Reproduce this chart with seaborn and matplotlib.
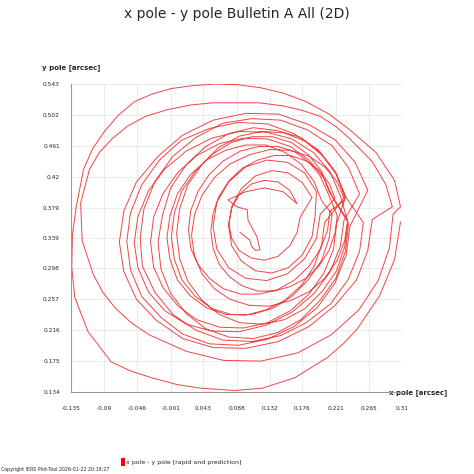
import matplotlib
matplotlib.use("Agg")
import matplotlib.pyplot as plt
from matplotlib.patches import Patch
import seaborn as sns
import pandas as pd

# polar motion path, one list per turn (clockwise, starting at the right side)
loop_a_x = [0.308, 0.300, 0.280, 0.250, 0.231, 0.210, 0.166, 0.122, 0.085, 0.040, 0.007, -0.027, -0.055, -0.081,
            -0.112, -0.130, -0.134, -0.133, -0.128, -0.118, -0.106, -0.090, -0.071, -0.049, -0.025, 0.000, 0.030,
            0.060, 0.090, 0.120, 0.150, 0.180, 0.212, 0.240, 0.275, 0.300, 0.308]
loop_a_y = [0.360, 0.310, 0.262, 0.218, 0.198, 0.180, 0.153, 0.139, 0.136, 0.139, 0.144, 0.153, 0.162, 0.174,
            0.214, 0.260, 0.300, 0.343, 0.380, 0.430, 0.457, 0.480, 0.502, 0.520, 0.530, 0.537, 0.541,
            0.543, 0.542, 0.538, 0.531, 0.520, 0.503, 0.482, 0.452, 0.415, 0.380]
loop_b_x = [0.298, 0.293, 0.278, 0.252, 0.215, 0.170, 0.120, 0.070, 0.020, -0.005, -0.030, -0.054, -0.075,
            -0.092, -0.105, -0.120, -0.122, -0.110, -0.097, -0.080, -0.059, -0.035, -0.005, 0.025, 0.055,
            0.085, 0.118, 0.150, 0.176, 0.200, 0.222, 0.240, 0.270, 0.288, 0.297]
loop_b_y = [0.370, 0.325, 0.282, 0.243, 0.210, 0.186, 0.175, 0.176, 0.188, 0.199, 0.210, 0.226, 0.245,
            0.266, 0.290, 0.335, 0.385, 0.430, 0.452, 0.470, 0.487, 0.500, 0.509, 0.515, 0.518,
            0.518, 0.518, 0.514, 0.508, 0.500, 0.486, 0.470, 0.440, 0.410, 0.380]
loop_c_x = [0.270, 0.264, 0.249, 0.220, 0.185, 0.144, 0.100, 0.056, 0.015, -0.020, -0.047, -0.064,
            -0.070, -0.064, -0.047, -0.018, 0.015, 0.056, 0.100, 0.144, 0.185, 0.220, 0.247, 0.264]
loop_c_y = [0.363, 0.322, 0.283, 0.249, 0.221, 0.201, 0.192, 0.193, 0.205, 0.229, 0.257, 0.294,
            0.333, 0.374, 0.413, 0.447, 0.475, 0.495, 0.504, 0.503, 0.489, 0.469, 0.439, 0.402]
loop_n_x = [0.240, 0.235, 0.220, 0.196, 0.165, 0.129, 0.090, 0.051, 0.015, -0.014, -0.040, -0.055,
            -0.060, -0.055, -0.040, -0.016, 0.013, 0.051, 0.090, 0.129, 0.165, 0.198, 0.220, 0.235]
loop_n_y = [0.354, 0.316, 0.279, 0.246, 0.221, 0.204, 0.196, 0.198, 0.211, 0.233, 0.261, 0.296,
            0.334, 0.372, 0.409, 0.442, 0.468, 0.484, 0.492, 0.490, 0.477, 0.455, 0.427, 0.392]
loop_d_x = [0.258, 0.253, 0.238, 0.214, 0.181, 0.147, 0.108, 0.069, 0.033, 0.002, -0.022, -0.039,
            -0.042, -0.037, -0.022, 0.002, 0.033, 0.069, 0.108, 0.147, 0.183, 0.216, 0.238, 0.253]
loop_d_y = [0.359, 0.321, 0.284, 0.251, 0.226, 0.209, 0.201, 0.203, 0.216, 0.237, 0.266, 0.301,
            0.339, 0.377, 0.414, 0.447, 0.472, 0.491, 0.497, 0.495, 0.482, 0.461, 0.432, 0.397]
loop_o_x = [0.232, 0.227, 0.213, 0.191, 0.162, 0.128, 0.091, 0.054, 0.020, -0.009, -0.031, -0.045,
            -0.050, -0.045, -0.031, -0.009, 0.020, 0.054, 0.091, 0.128, 0.162, 0.191, 0.213, 0.227]
loop_o_y = [0.362, 0.327, 0.293, 0.264, 0.240, 0.223, 0.214, 0.215, 0.224, 0.242, 0.267, 0.299,
            0.332, 0.367, 0.401, 0.430, 0.454, 0.471, 0.480, 0.479, 0.470, 0.452, 0.427, 0.395]
loop_e_x = [0.238, 0.234, 0.221, 0.200, 0.174, 0.143, 0.110, 0.077, 0.046, 0.020, -0.001, -0.014,
            -0.018, -0.012, -0.001, 0.020, 0.046, 0.077, 0.110, 0.143, 0.174, 0.200, 0.221, 0.234]
loop_e_y = [0.357, 0.321, 0.285, 0.256, 0.230, 0.213, 0.205, 0.207, 0.218, 0.238, 0.265, 0.297,
            0.333, 0.369, 0.405, 0.436, 0.460, 0.477, 0.485, 0.481, 0.472, 0.452, 0.425, 0.393]
loop_p_x = [0.222, 0.218, 0.205, 0.185, 0.160, 0.129, 0.097, 0.065, 0.034, 0.009, -0.011, -0.024,
            -0.028, -0.024, -0.011, 0.009, 0.034, 0.065, 0.097, 0.129, 0.160, 0.185, 0.205, 0.218]
loop_p_y = [0.357, 0.324, 0.292, 0.264, 0.242, 0.226, 0.219, 0.220, 0.230, 0.248, 0.272, 0.300,
            0.333, 0.366, 0.398, 0.426, 0.448, 0.464, 0.471, 0.470, 0.460, 0.442, 0.418, 0.390]
loop_f_x = [0.237, 0.233, 0.222, 0.203, 0.180, 0.152, 0.122, 0.092, 0.064, 0.041, 0.022, 0.011,
            0.007, 0.011, 0.022, 0.041, 0.064, 0.092, 0.122, 0.152, 0.180, 0.203, 0.222, 0.233]
loop_f_y = [0.360, 0.327, 0.295, 0.268, 0.245, 0.230, 0.224, 0.226, 0.237, 0.256, 0.281, 0.311,
            0.344, 0.377, 0.409, 0.436, 0.459, 0.474, 0.480, 0.478, 0.467, 0.448, 0.423, 0.393]
loop_q_x = [0.206, 0.202, 0.192, 0.175, 0.153, 0.127, 0.100, 0.073, 0.047, 0.025, 0.008, -0.002,
            -0.006, -0.002, 0.008, 0.025, 0.047, 0.073, 0.100, 0.127, 0.153, 0.175, 0.192, 0.202]
loop_q_y = [0.359, 0.330, 0.301, 0.276, 0.256, 0.243, 0.236, 0.237, 0.246, 0.262, 0.283, 0.310,
            0.339, 0.368, 0.397, 0.422, 0.442, 0.455, 0.462, 0.462, 0.452, 0.436, 0.413, 0.388]
loop_g_x = [0.216, 0.212, 0.202, 0.184, 0.162, 0.136, 0.108, 0.080, 0.054, 0.032, 0.014, 0.004,
            0.000, 0.004, 0.014, 0.032, 0.054, 0.080, 0.108, 0.136, 0.162, 0.184, 0.202, 0.212]
loop_g_y = [0.370, 0.338, 0.309, 0.283, 0.261, 0.245, 0.237, 0.237, 0.245, 0.261, 0.283, 0.310,
            0.340, 0.372, 0.401, 0.427, 0.449, 0.465, 0.473, 0.473, 0.465, 0.449, 0.427, 0.400]
loop_h_x = [0.237, 0.233, 0.223, 0.206, 0.185, 0.159, 0.132, 0.105, 0.079, 0.058, 0.041, 0.031,
            0.027, 0.031, 0.041, 0.058, 0.079, 0.105, 0.132, 0.159, 0.185, 0.206, 0.223, 0.233]
loop_h_y = [0.362, 0.335, 0.309, 0.285, 0.267, 0.255, 0.248, 0.249, 0.257, 0.271, 0.291, 0.315,
            0.342, 0.369, 0.395, 0.419, 0.437, 0.449, 0.456, 0.455, 0.447, 0.433, 0.413, 0.389]
loop_i_x = [0.213, 0.210, 0.200, 0.185, 0.166, 0.143, 0.118, 0.093, 0.070, 0.051, 0.036, 0.026,
            0.023, 0.026, 0.036, 0.051, 0.070, 0.093, 0.118, 0.143, 0.166, 0.185, 0.200, 0.210]
loop_i_y = [0.374, 0.349, 0.323, 0.301, 0.283, 0.270, 0.264, 0.264, 0.271, 0.285, 0.303, 0.325,
            0.350, 0.375, 0.401, 0.423, 0.441, 0.454, 0.460, 0.460, 0.453, 0.439, 0.421, 0.399]
loop_j_x = [0.223, 0.220, 0.212, 0.198, 0.181, 0.160, 0.138, 0.116, 0.095, 0.078, 0.064, 0.056,
            0.053, 0.056, 0.064, 0.078, 0.095, 0.116, 0.138, 0.160, 0.181, 0.198, 0.212, 0.220]
loop_j_y = [0.368, 0.345, 0.322, 0.301, 0.285, 0.274, 0.268, 0.268, 0.275, 0.287, 0.304, 0.325,
            0.348, 0.371, 0.394, 0.415, 0.431, 0.442, 0.448, 0.448, 0.441, 0.429, 0.411, 0.391]
loop_k_x = [0.200, 0.195, 0.179, 0.156, 0.128, 0.100, 0.077, 0.061, 0.056, 0.061, 0.077, 0.100,
            0.128, 0.156, 0.179, 0.195]
loop_k_y = [0.370, 0.338, 0.311, 0.291, 0.282, 0.285, 0.299, 0.324, 0.354, 0.386, 0.413, 0.433,
            0.442, 0.439, 0.425, 0.400]
loop_l_x = [0.193, 0.189, 0.176, 0.157, 0.135, 0.113, 0.094, 0.081, 0.077, 0.081, 0.094, 0.113,
            0.135, 0.157, 0.176, 0.189]
loop_l_y = [0.366, 0.340, 0.316, 0.299, 0.292, 0.295, 0.308, 0.328, 0.354, 0.380, 0.404, 0.421,
            0.428, 0.425, 0.412, 0.392]
loop_m_x = [0.173, 0.169, 0.159, 0.143, 0.125, 0.107, 0.091, 0.081, 0.077, 0.081, 0.091, 0.107,
            0.125, 0.143, 0.159, 0.169]
loop_m_y = [0.366, 0.346, 0.328, 0.314, 0.309, 0.312, 0.322, 0.338, 0.358, 0.378, 0.396, 0.410,
            0.415, 0.413, 0.402, 0.384]
tail_x = [0.150, 0.125, 0.100, 0.076, 0.088, 0.102, 0.103, 0.108, 0.115, 0.119, 0.113, 0.108, 0.105, 0.092]
tail_y = [0.400, 0.405, 0.400, 0.389, 0.380, 0.376, 0.362, 0.353, 0.340, 0.323, 0.322, 0.327, 0.336, 0.346]

x_ticks = [-0.135, -0.09, -0.046, -0.001, 0.043, 0.088, 0.132, 0.176, 0.221, 0.265, 0.31]
y_ticks = [0.134, 0.175, 0.216, 0.257, 0.298, 0.339, 0.379, 0.42, 0.461, 0.502, 0.543]
x_tick_labels = ["-0.135", "-0.09", "-0.046", "-0.001", "0.043", "0.088", "0.132", "0.176", "0.221", "0.265", "0.31"]
y_tick_labels = ["0.134", "0.175", "0.216", "0.257", "0.298", "0.339", "0.379", "0.42", "0.461", "0.502", "0.543"]

xs = (loop_a_x + loop_b_x + loop_c_x + loop_n_x + loop_d_x + loop_o_x + loop_e_x + loop_p_x + loop_f_x
      + loop_q_x + loop_g_x + loop_h_x + loop_i_x + loop_j_x + loop_k_x + loop_l_x + loop_m_x + tail_x)
ys = (loop_a_y + loop_b_y + loop_c_y + loop_n_y + loop_d_y + loop_o_y + loop_e_y + loop_p_y + loop_f_y
      + loop_q_y + loop_g_y + loop_h_y + loop_i_y + loop_j_y + loop_k_y + loop_l_y + loop_m_y + tail_y)
df = pd.DataFrame({"x": xs, "y": ys})

sns.set_theme(style="white")
plt.rcParams['font.family'] = ['DejaVu Sans']

fig = plt.figure(figsize=(4.74, 4.74), dpi=100)
ax = fig.add_axes([71 / 474, 1 - 392 / 474, 331 / 474, 308 / 474])

line_color = "#f03030"
sns.lineplot(data=df, x="x", y="y", sort=False, estimator=None, color=line_color,
             linewidth=0.7, alpha=0.9, ax=ax)

ax.set_xlim(-0.135, 0.31)
ax.set_ylim(0.134, 0.543)
ax.set_xticks(x_ticks)
ax.set_yticks(y_ticks)
ax.set_xticklabels(x_tick_labels, fontsize=4.2)
ax.set_yticklabels(y_tick_labels, fontsize=4.2)
ax.tick_params(axis="x", pad=10, length=0)
ax.tick_params(axis="y", pad=8, length=0)
ax.grid(True, color="#e8e8e8", linewidth=0.6)
for s in ["top", "right"]:
    ax.spines[s].set_visible(False)
for s in ["left", "bottom"]:
    ax.spines[s].set_color("#999999")
    ax.spines[s].set_linewidth(0.8)

ax.set_xlabel("x pole [arcsec]", fontsize=5, fontweight="bold",
              bbox=dict(facecolor="white", edgecolor="none", pad=0.6))
ax.xaxis.set_label_coords(1.048, -0.002)
ax.xaxis.label.set_va("center")
ax.xaxis.label.set_zorder(5)
ax.set_ylabel("y pole [arcsec]", fontsize=5, fontweight="bold", rotation=0)
ax.yaxis.set_label_coords(0.0, 1.052)
ax.yaxis.label.set_va("center")

fig.suptitle("x pole - y pole Bulletin A All (2D)", fontsize=10, y=0.985)

handle = Patch(facecolor="red", edgecolor="none", label="x pole - y pole [rapid and prediction]")
ax.legend(handles=[handle], loc="center left", bbox_to_anchor=(118 / 474, 1 - 462 / 474),
          bbox_transform=fig.transFigure, frameon=False, fontsize=4.5, handlelength=0.55,
          handleheight=1.6, handletextpad=0.25, borderpad=0)

fig.text(0.002, 1 - 470 / 474, "Copyright IERS Plot-Tool 2026-01-22 20:19:27", fontsize=3.4, va="center")

fig.savefig("out.png", dpi=100)
